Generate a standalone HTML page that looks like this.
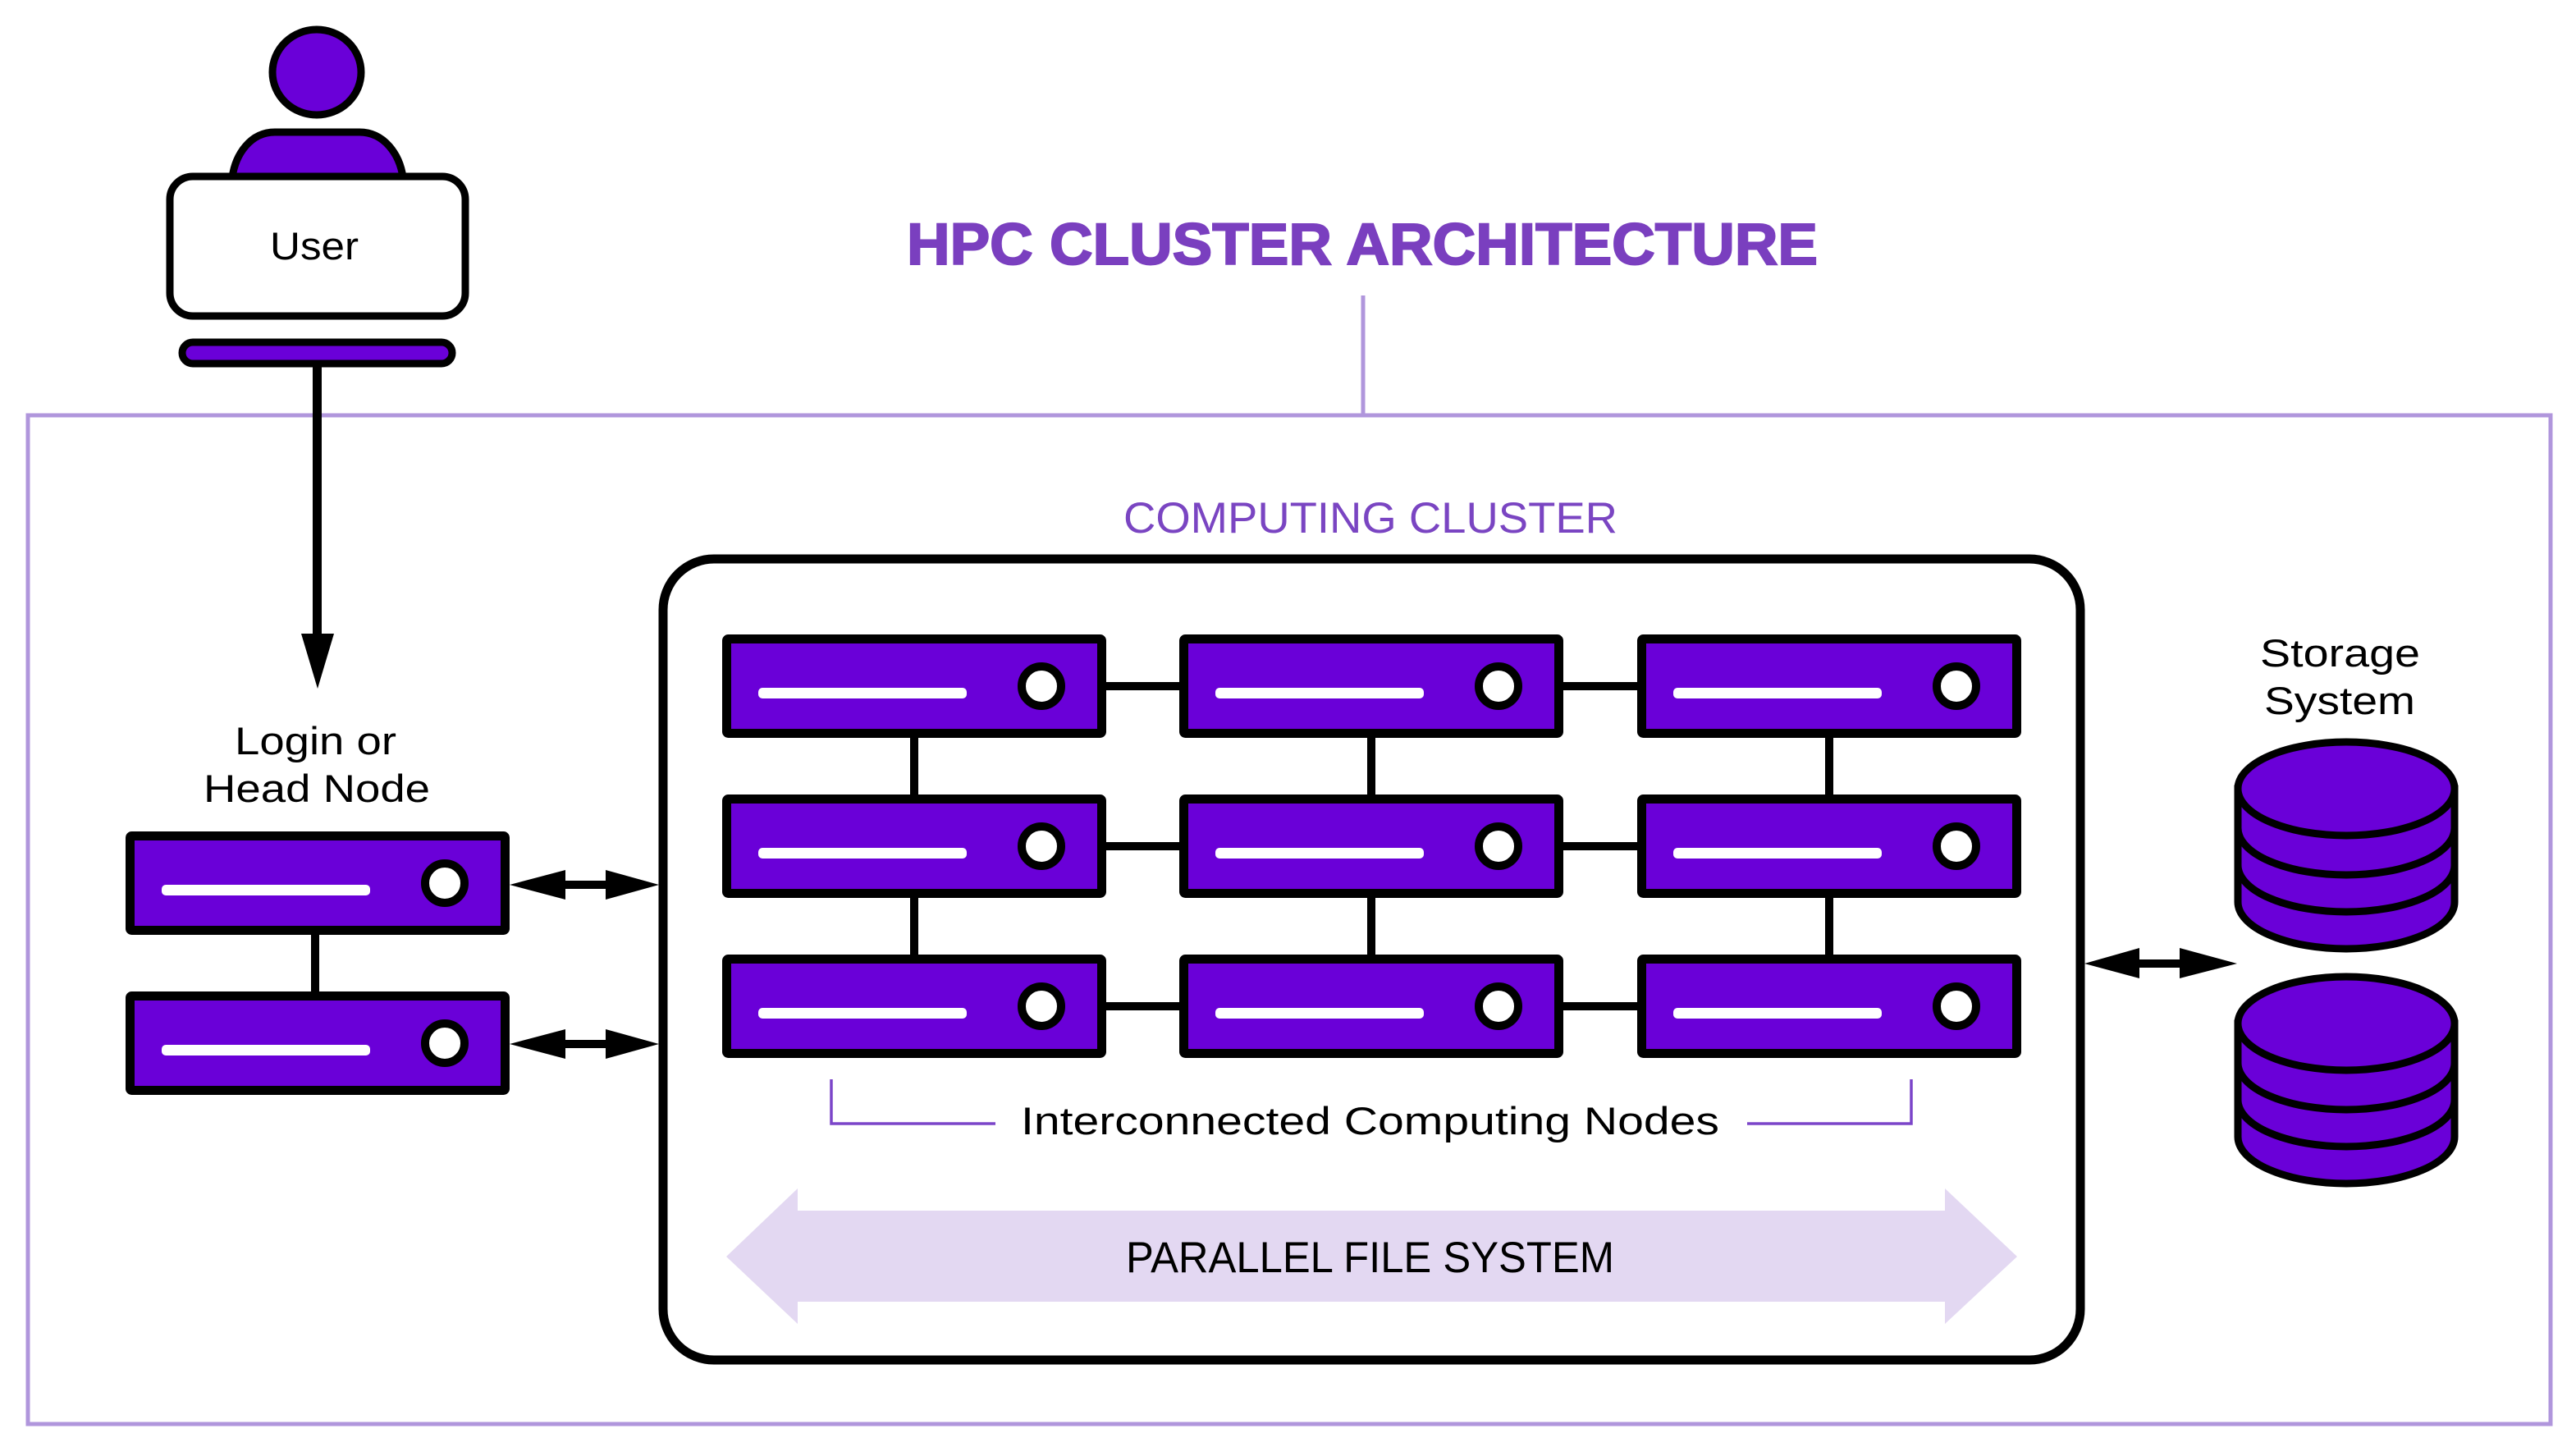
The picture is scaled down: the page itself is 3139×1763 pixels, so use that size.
<!DOCTYPE html>
<html><head><meta charset="utf-8"><title>HPC Cluster Architecture</title>
<style>html,body{margin:0;padding:0;background:#fff}svg{display:block}text{font-family:"Liberation Sans",sans-serif}</style></head>
<body>
<svg xmlns="http://www.w3.org/2000/svg" width="3139" height="1763" viewBox="0 0 3139 1763">
<defs>
<g id="n">
<rect x="5.5" y="5.5" width="457" height="115" rx="2" fill="#6a00d8" stroke="#000" stroke-width="11"/>
<rect x="44" y="65" width="254" height="13" rx="5" fill="#fff"/>
<circle cx="389" cy="63" r="24" fill="#fff" stroke="#000" stroke-width="10"/>
</g>
<g id="d">
<path d="M2727,961 V1099 A132,57 0 0 0 2991,1099 V961 Z" fill="#6a00d8" stroke="#000" stroke-width="9"/>
<path d="M2727,1054 A132,57 0 0 0 2991,1054 M2727,1009 A132,57 0 0 0 2991,1009" fill="none" stroke="#000" stroke-width="9"/>
<ellipse cx="2859" cy="961" rx="132" ry="57" fill="#6a00d8" stroke="#000" stroke-width="9"/>
</g>
<g id="a">
<rect x="680" y="-5" width="65" height="10" fill="#000"/>
<polygon points="621,0 689,-18 689,18" fill="#000"/>
<polygon points="803,0 738,-18 738,18" fill="#000"/>
</g>
</defs>

<rect x="34" y="506" width="3074" height="1229" fill="none" stroke="#b096dc" stroke-width="5"/>
<line x1="1661" y1="360" x2="1661" y2="506" stroke="#b096dc" stroke-width="5"/>

<text x="1105" y="322" font-size="71" font-weight="700" fill="#7a3fbf" stroke="#7a3fbf" stroke-width="2" textLength="1110" lengthAdjust="spacingAndGlyphs">HPC CLUSTER ARCHITECTURE</text>
<text x="1369" y="649" font-size="53" fill="#7a45c2" textLength="602" lengthAdjust="spacingAndGlyphs">COMPUTING CLUSTER</text>

<!-- user -->
<ellipse cx="386" cy="88" rx="54" ry="52" fill="#6a00d8" stroke="#000" stroke-width="9"/>
<path d="M283,216 C287,188 305,161 335,161 H438 C468,161 487,188 491,216 Z" fill="#6a00d8" stroke="#000" stroke-width="9"/>
<rect x="207" y="215" width="360" height="170" rx="28" fill="#fff" stroke="#000" stroke-width="9"/>
<text x="329" y="316" font-size="47" fill="#000" textLength="108" lengthAdjust="spacingAndGlyphs">User</text>
<rect x="222" y="417" width="329" height="26" rx="13" fill="#6a00d8" stroke="#000" stroke-width="9"/>
<rect x="381" y="445" width="11" height="330" fill="#000"/>
<polygon points="367,772 407,772 387,839" fill="#000"/>

<!-- login -->
<text x="286" y="919" font-size="47" fill="#000" textLength="197" lengthAdjust="spacingAndGlyphs">Login or</text>
<text x="248" y="977" font-size="47" fill="#000" textLength="276" lengthAdjust="spacingAndGlyphs">Head Node</text>
<rect x="379" y="1135" width="10" height="75" fill="#000"/>
<use href="#n" x="153" y="1013"/>
<use href="#n" x="153" y="1208"/>
<use href="#a" x="0" y="1078"/>
<use href="#a" x="0" y="1272"/>

<!-- cluster -->
<rect x="808" y="681" width="1727" height="976" rx="62" fill="#fff" stroke="#000" stroke-width="11"/>

<g stroke="#000" stroke-width="10">
<line x1="1346" y1="836" x2="1440" y2="836"/><line x1="1903" y1="836" x2="1998" y2="836"/>
<line x1="1346" y1="1031" x2="1440" y2="1031"/><line x1="1903" y1="1031" x2="1998" y2="1031"/>
<line x1="1346" y1="1226" x2="1440" y2="1226"/><line x1="1903" y1="1226" x2="1998" y2="1226"/>
<line x1="1114" y1="896" x2="1114" y2="970"/><line x1="1114" y1="1091" x2="1114" y2="1165"/>
<line x1="1671" y1="896" x2="1671" y2="970"/><line x1="1671" y1="1091" x2="1671" y2="1165"/>
<line x1="2229" y1="896" x2="2229" y2="970"/><line x1="2229" y1="1091" x2="2229" y2="1165"/>
</g>
<use href="#n" x="880" y="773"/><use href="#n" x="1437" y="773"/><use href="#n" x="1995" y="773"/>
<use href="#n" x="880" y="968"/><use href="#n" x="1437" y="968"/><use href="#n" x="1995" y="968"/>
<use href="#n" x="880" y="1163"/><use href="#n" x="1437" y="1163"/><use href="#n" x="1995" y="1163"/>

<!-- brackets -->
<path d="M1013,1315 V1369 H1213" fill="none" stroke="#7b45c9" stroke-width="3.5"/>
<path d="M2329,1315 V1369 H2129" fill="none" stroke="#7b45c9" stroke-width="3.5"/>
<text x="1244" y="1382" font-size="47" fill="#000" textLength="851" lengthAdjust="spacingAndGlyphs">Interconnected Computing Nodes</text>

<!-- parallel fs -->
<polygon points="885,1531 972,1448 972,1475 2370,1475 2370,1448 2458,1531 2370,1613 2370,1586 972,1586 972,1613" fill="#e3d8f2"/>
<text x="1372" y="1550" font-size="53" fill="#000" textLength="595" lengthAdjust="spacingAndGlyphs">PARALLEL FILE SYSTEM</text>

<!-- storage -->
<text x="2754" y="812" font-size="47" fill="#000" textLength="195" lengthAdjust="spacingAndGlyphs">Storage</text>
<text x="2759" y="870" font-size="47" fill="#000" textLength="184" lengthAdjust="spacingAndGlyphs">System</text>
<use href="#d"/>
<use href="#d" y="286"/>
<rect x="2600" y="1169" width="65" height="10" fill="#000"/>
<polygon points="2540,1174 2607,1155 2607,1192" fill="#000"/>
<polygon points="2726,1174 2656,1155 2656,1192" fill="#000"/>
</svg>
</body></html>
